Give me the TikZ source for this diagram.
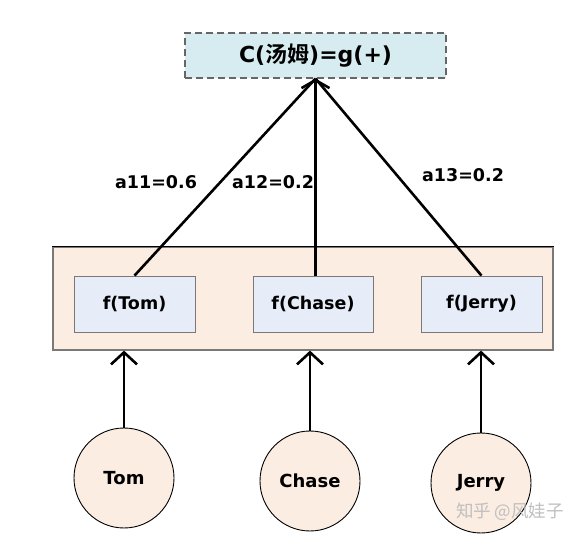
\documentclass[tikz,border=0pt]{standalone}
\usepackage{fontspec}
\setmainfont{DejaVu Sans}
\newfontfamily\cjk{Noto Sans CJK SC}[BoldFont={Noto Sans CJK SC Bold}]
\usetikzlibrary{arrows.meta, positioning}

\definecolor{topblue}{RGB}{214,236,240}
\definecolor{peach}{RGB}{252,237,226}
\definecolor{boxblue}{RGB}{230,236,248}
\definecolor{edgegray}{RGB}{125,120,120}

\begin{document}
\begin{tikzpicture}[x=1pt, y=-1pt, every node/.style={font=\bfseries}, every path/.style={line width=2.6pt}]
\useasboundingbox (0,0) rectangle (579,537);

% --- top node ---
\node[draw=black!60, dash pattern=on 7pt off 4pt, line width=1.2pt, fill=topblue, minimum width=261pt, minimum height=45pt, font=\bfseries\fontsize{22}{26}\selectfont] (c) at (315.5,55.5) {C({\cjk 汤姆})=g(+)};

% --- group of f boxes ---
\node[draw=edgegray, line width=1.2pt, fill=peach, minimum width=500pt, minimum height=103pt] (grp) at (303,298.5) {};
\draw[line width=1.2pt] (grp.north west) -- (grp.north east);
\node[draw=edgegray, line width=0.8pt, fill=boxblue, minimum width=121pt, minimum height=56pt, font=\bfseries\fontsize{17.5}{20}\selectfont] (ft) at (134.5,304) {f(Tom)};
\node[draw=edgegray, line width=0.8pt, fill=boxblue, minimum width=120pt, minimum height=56pt, font=\bfseries\fontsize{17.5}{20}\selectfont] (fc) at (313,304) {f(Chase)};
\node[draw=edgegray, line width=0.8pt, fill=boxblue, minimum width=121pt, minimum height=56pt, font=\bfseries\fontsize{17.5}{20}\selectfont] (fj) at (481.5,304) {f(Jerry)};

% --- weights ---
\draw (ft.north) -- (c.south);
\draw (fj.north) -- (c.south);
\draw[-{Straight Barb[length=8pt, width=28pt]}] (fc.north -| c.south) -- (c.south);
\node[font=\bfseries\fontsize{17.5}{20}\selectfont] (w1) at (156,182) {a11=0.6};
\node[font=\bfseries\fontsize{17.5}{20}\selectfont] (w2) at (273,182) {a12=0.2};
\node[font=\bfseries\fontsize{17.5}{20}\selectfont] (w3) at (463,175) {a13=0.2};

% --- inputs ---
\node[circle, draw=black, line width=0.9pt, fill=peach, minimum size=100pt, font=\bfseries\fontsize{18}{21}\selectfont] (tom) at (124,478) {Tom};
\node[circle, draw=black, line width=0.9pt, fill=peach, minimum size=100pt, font=\bfseries\fontsize{18}{21}\selectfont] (chase) at (310,481) {Chase};
\node[circle, draw=black, line width=0.9pt, fill=peach, minimum size=100pt, font=\bfseries\fontsize{18}{21}\selectfont] (jerry) at (481,483) {Jerry};
\draw[-{Straight Barb[length=12pt, width=26pt]}] (tom.north) -- (tom.north |- grp.south);
\draw[-{Straight Barb[length=12pt, width=26pt]}] (chase.north) -- (chase.north |- grp.south);
\draw[-{Straight Barb[length=12pt, width=26pt]}] (jerry.north) -- (jerry.north |- grp.south);

% --- watermark ---
\node[text=black!25, font=\cjk\fontsize{17.5}{20}\selectfont] (wm) at (510,512) {知乎 @风娃子};

\end{tikzpicture}
\end{document}
